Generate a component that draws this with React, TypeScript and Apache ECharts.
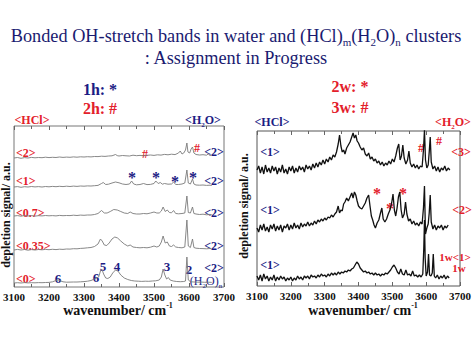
import React, { useEffect, useRef } from "react";
import * as echarts from "echarts";

const SERIF = "Liberation Serif, Times New Roman, serif";
const NAVY = "#1c1c84";
const RED = "#e3202b";

const X_MIN = 3100;
const X_MAX = 3700;
const X_STEP = 100;

// Left panel: (HCl)m(H2O)n, HCl content series (height above each trace's baseline)
const LEFT_NAMES = ["<2>", "<1>", "<0.7>", "<0.35>", "<0>"];
const LEFT_OFFSETS = [129, 100, 71, 37, 4];

const L_2: number[][] = [[3100,0],[3110,0.5],[3120,-0.3],[3130,0.4],[3140,0],[3150,0.6],[3160,0.2],[3170,0.5],[3180,0.3],[3190,0.8],[3200,0.4],[3210,0.7],[3220,0.5],[3230,1],[3240,0.6],[3250,0.9],[3260,0.7],[3270,1.1],[3280,0.8],[3290,1.2],[3300,1],[3310,1.3],[3320,1.1],[3330,1.5],[3340,1.4],[3350,1.8],[3360,1.6],[3370,2],[3380,2.2],[3390,3.5],[3395,2.4],[3400,2],[3410,2.5],[3420,2.2],[3430,2],[3440,2.8],[3450,2.3],[3460,2.6],[3470,2.2],[3480,2.7],[3490,3],[3500,2.6],[3510,3.2],[3520,2.9],[3530,3.6],[3540,3.2],[3550,3.8],[3560,3.4],[3570,5],[3575,7],[3580,4],[3585,5],[3590,8],[3594,15],[3597,6],[3602,5],[3606,9],[3610,11],[3614,5],[3620,3.5],[3630,3],[3640,3.3],[3650,2.8],[3655,4],[3660,2.5],[3665,3]];
const L_1: number[][] = [[3100,0],[3110,0.4],[3120,-0.3],[3130,0.3],[3140,0],[3150,0.5],[3160,0.1],[3170,0.4],[3180,0],[3190,0.5],[3200,0.2],[3210,0.6],[3220,0.3],[3230,0.7],[3240,0.4],[3250,0.8],[3260,0.5],[3270,0.9],[3280,0.6],[3290,1],[3300,0.8],[3310,1.1],[3320,1],[3330,1.3],[3340,1.6],[3350,3.5],[3355,4.5],[3362,2.5],[3370,2.8],[3380,4],[3390,5],[3400,4.2],[3410,3],[3420,2.5],[3430,3],[3436,6],[3442,3],[3450,2.2],[3460,2.5],[3470,3.5],[3480,2.4],[3490,2.6],[3500,3.5],[3505,6],[3512,3.5],[3518,4.5],[3524,2.8],[3530,3.5],[3540,2.8],[3550,3],[3556,5],[3562,2.5],[3570,2.5],[3580,3],[3588,4],[3594,17],[3598,4],[3604,3],[3610,8],[3614,3],[3620,2],[3630,1.8],[3640,2],[3650,1.6],[3660,1.8],[3665,1.5]];
const L_07: number[][] = [[3100,0],[3110,0.4],[3120,-0.2],[3130,0.5],[3140,0],[3150,0.4],[3160,-0.1],[3170,0.3],[3180,0.1],[3190,0.5],[3200,0.2],[3210,0.4],[3220,0.1],[3230,0.6],[3240,0.3],[3250,0.5],[3260,0.4],[3270,0.8],[3280,0.5],[3290,0.9],[3300,0.7],[3310,1],[3320,1],[3330,1.5],[3340,2.5],[3350,5.5],[3358,3],[3366,3],[3375,4.5],[3385,6.5],[3395,6],[3405,4.5],[3415,3],[3425,2.5],[3432,4],[3440,2.5],[3450,2],[3460,2],[3470,2.5],[3480,2.2],[3490,3],[3500,4],[3508,3],[3515,3],[3521,5],[3526,9],[3532,4.5],[3538,6],[3544,3.5],[3550,3.2],[3556,5.5],[3562,2.5],[3570,2.2],[3580,2.5],[3588,3],[3594,20],[3598,3.5],[3604,3],[3610,9],[3614,2.5],[3620,2],[3630,1.5],[3640,1.8],[3650,1.2],[3660,1.6],[3665,1.3]];
const L_035: number[][] = [[3100,0],[3110,0.6],[3120,0],[3130,0.5],[3140,-0.2],[3150,0.4],[3160,0],[3170,0.5],[3180,0.2],[3190,0.6],[3200,0.3],[3210,0.7],[3220,0.4],[3230,0.8],[3240,0.6],[3250,1],[3260,0.9],[3270,1.3],[3280,1.2],[3290,1.6],[3300,1.8],[3310,2.2],[3320,2.5],[3330,3.5],[3340,6],[3347,11],[3352,9],[3358,5],[3365,4.5],[3372,7],[3380,11],[3388,13],[3396,12],[3405,9],[3415,6],[3425,4],[3432,5],[3440,3],[3450,2.5],[3460,2.2],[3470,2.5],[3480,2.2],[3490,2.8],[3500,4],[3508,3],[3515,4],[3521,8],[3526,14],[3532,7],[3538,8],[3544,4],[3550,3.5],[3556,5],[3562,3],[3570,2.5],[3580,2.2],[3588,3],[3594,30],[3598,4],[3604,2.5],[3610,11],[3614,2.5],[3620,1.8],[3630,1.5],[3640,1.4],[3650,1.2],[3660,1.5],[3665,1]];
const L_0: number[][] = [[3100,0],[3110,0.3],[3120,0],[3130,0.4],[3140,0.1],[3150,0.3],[3160,0.2],[3170,0.4],[3180,0.3],[3190,0.5],[3200,0.6],[3210,1.2],[3220,2.5],[3226,3.2],[3232,2.2],[3240,1.2],[3250,0.8],[3260,0.9],[3270,1],[3280,1],[3290,1.2],[3300,1.4],[3310,1.8],[3320,2.5],[3330,4],[3336,5],[3342,6],[3347,12],[3351,14],[3356,9],[3362,5],[3368,4.5],[3375,6],[3382,10],[3390,13],[3397,12],[3405,8],[3415,5],[3425,3.5],[3435,2.5],[3445,2],[3455,1.8],[3465,1.6],[3475,1.8],[3485,1.7],[3495,2],[3505,2.2],[3515,3],[3521,6],[3526,14],[3531,8],[3536,4],[3541,5.5],[3546,3],[3555,2],[3565,1.5],[3575,1.3],[3585,1.5],[3590,2],[3594,26],[3598,3],[3605,1.2],[3615,1],[3625,0.8],[3635,0.9],[3645,0.7],[3655,0.8],[3665,0.6]];
const LEFT_TRACES = [L_2, L_1, L_07, L_035, L_0];

// Right panel: three water-rich traces
const RIGHT_OFFSETS = [116, 58, 8];
const R_3: number[][] = [[3100,0],[3105,4],[3110,-3],[3115,3],[3120,-4],[3125,5],[3130,-2],[3135,2],[3140,-3],[3145,4],[3150,-1],[3155,3],[3160,-4],[3165,2],[3170,-2],[3175,5],[3180,-3],[3185,1],[3190,-4],[3195,3],[3200,-1],[3205,4],[3210,-3],[3215,2],[3220,-2],[3225,4],[3230,0],[3235,3],[3240,-2],[3245,5],[3250,1],[3255,4],[3260,0],[3265,6],[3270,2],[3275,7],[3280,3],[3285,8],[3290,5],[3295,10],[3300,6],[3305,11],[3310,8],[3315,13],[3320,10],[3325,15],[3330,13],[3335,18],[3340,26],[3344,35],[3348,24],[3352,18],[3356,20],[3360,16],[3365,22],[3370,25],[3375,28],[3380,33],[3384,37],[3388,32],[3392,35],[3396,29],[3400,27],[3405,23],[3410,20],[3415,22],[3420,16],[3425,14],[3430,17],[3435,11],[3440,13],[3445,9],[3450,11],[3455,7],[3460,9],[3465,5],[3470,8],[3475,4],[3480,7],[3485,5],[3490,9],[3495,6],[3500,11],[3505,8],[3510,14],[3515,22],[3519,26],[3523,10],[3527,14],[3531,25],[3535,12],[3540,6],[3545,10],[3549,19],[3553,7],[3558,3],[3563,6],[3568,2],[3573,5],[3578,1],[3583,4],[3588,3],[3592,20],[3595,40],[3598,10],[3602,2],[3606,5],[3609,18],[3612,33],[3615,8],[3620,1],[3625,4],[3630,-1],[3635,3],[3640,-2],[3645,2],[3650,0],[3655,4],[3660,-1],[3665,2],[3670,0]];
const R_2: number[][] = [[3100,0],[3105,-4],[3110,3],[3115,-2],[3120,4],[3125,-3],[3130,1],[3135,-4],[3140,3],[3145,-1],[3150,4],[3155,-3],[3160,2],[3165,-2],[3170,3],[3175,-4],[3180,2],[3185,0],[3190,4],[3195,-2],[3200,3],[3205,-1],[3210,5],[3215,0],[3220,3],[3225,-1],[3230,5],[3235,1],[3240,4],[3245,2],[3250,6],[3255,2],[3260,5],[3265,3],[3270,7],[3275,4],[3280,8],[3285,6],[3290,9],[3295,7],[3300,10],[3305,8],[3310,11],[3315,10],[3320,13],[3325,11],[3330,14],[3335,16],[3340,22],[3344,15],[3348,18],[3352,17],[3356,24],[3360,26],[3365,30],[3370,27],[3375,31],[3380,35],[3384,30],[3388,36],[3392,33],[3396,27],[3400,22],[3405,20],[3410,19],[3415,22],[3420,25],[3425,30],[3430,33],[3434,22],[3438,12],[3442,8],[3446,3],[3450,0],[3455,5],[3460,8],[3465,15],[3469,20],[3473,9],[3478,6],[3483,9],[3488,14],[3493,18],[3498,25],[3502,34],[3506,18],[3510,12],[3514,20],[3518,31],[3522,36],[3526,18],[3530,10],[3535,14],[3539,26],[3543,14],[3548,7],[3553,9],[3558,4],[3563,7],[3568,3],[3573,5],[3578,2],[3583,6],[3588,4],[3592,20],[3595,42],[3598,-6],[3602,0],[3606,4],[3609,15],[3612,33],[3615,6],[3620,-1],[3625,3],[3630,-2],[3635,2],[3640,0],[3645,3],[3650,-2],[3655,2],[3660,0],[3665,3]];
const R_1: number[][] = [[3100,2],[3105,-2],[3110,3],[3115,-3],[3120,4],[3125,-1],[3130,2],[3135,-3],[3140,1],[3145,-2],[3150,3],[3155,-3],[3160,1],[3165,-2],[3170,2],[3175,-1],[3180,1],[3185,-3],[3190,0],[3195,-2],[3200,1],[3205,-3],[3210,0],[3215,-2],[3220,2],[3225,-1],[3230,1],[3235,-2],[3240,2],[3245,0],[3250,2],[3255,-1],[3260,3],[3265,1],[3270,2],[3275,0],[3280,3],[3285,1],[3290,4],[3295,2],[3300,3],[3305,1],[3310,4],[3315,2],[3320,5],[3325,3],[3330,5],[3335,3],[3340,6],[3345,4],[3350,6],[3355,5],[3360,7],[3365,6],[3370,8],[3375,7],[3380,9],[3385,10],[3390,13],[3395,16],[3400,14],[3405,10],[3410,8],[3415,6],[3420,7],[3425,5],[3430,6],[3435,4],[3440,5],[3445,3],[3450,5],[3455,3],[3460,4],[3465,2],[3470,4],[3475,3],[3480,5],[3485,4],[3490,6],[3495,8],[3500,11],[3505,13],[3510,10],[3515,6],[3520,4],[3525,9],[3530,4],[3535,3],[3540,8],[3545,3],[3550,4],[3555,2],[3560,7],[3565,2],[3570,3],[3575,1],[3580,3],[3585,1],[3590,4],[3593,30],[3595,58],[3597,20],[3600,2],[3604,6],[3607,24],[3610,3],[3614,2],[3618,5],[3621,24],[3624,2],[3628,0],[3633,3],[3638,-1],[3643,2],[3648,0],[3653,3],[3658,-1],[3663,2],[3668,0]];
const RIGHT_TRACES = [R_3, R_2, R_1];

function txt(x: number, y: number, text: string, fill: string, size: number, opts: any = {}) {
  return {
    type: "text",
    x,
    y,
    rotation: opts.rotation || 0,
    silent: true,
    style: {
      text,
      fill,
      fontSize: size,
      fontFamily: SERIF,
      fontWeight: opts.weight || "bold",
      align: opts.align || "center",
      verticalAlign: "middle",
      rich: opts.rich,
    },
  };
}

function richSub(size: number, fill: string, weight = "bold") {
  return {
    a: { fontSize: size, fill, fontFamily: SERIF, fontWeight: weight, lineHeight: size + 4 },
    s: { fontSize: Math.round(size * 0.6), fill, fontFamily: SERIF, fontWeight: weight, lineHeight: Math.round(size * 0.45), verticalAlign: "bottom" },
    p: { fontSize: Math.round(size * 0.6), fill, fontFamily: SERIF, fontWeight: weight, lineHeight: Math.round(size * 0.45), verticalAlign: "top" },
  };
}

function xAxes(gridIndex: number) {
  const common = {
    type: "value",
    gridIndex,
    min: X_MIN,
    max: X_MAX,
    interval: X_STEP,
    splitLine: { show: false },
    axisLine: { show: false },
    axisTick: { show: true, inside: true, length: 4, lineStyle: { color: "#666", width: 1 } },
    minorTick: { show: true, splitNumber: 2, length: 3, lineStyle: { color: "#666" } },
  };
  return [
    {
      ...common,
      position: "bottom",
      axisLabel: {
        show: true,
        color: "#111",
        fontFamily: SERIF,
        fontWeight: "bold",
        fontSize: 11,
        margin: 4,
        formatter: (v: number) => String(v),
      },
    },
    { ...common, position: "top", axisLabel: { show: false } },
  ];
}

export default function App() {
  const ref = useRef<HTMLDivElement>(null);
  useEffect(() => {
    if (!ref.current) return;
    const chart = echarts.init(ref.current, undefined, { renderer: "svg" });
    const series: any[] = [];
    LEFT_TRACES.forEach((tr, i) => {
      series.push({
        type: "line",
        xAxisIndex: 0,
        yAxisIndex: 0,
        showSymbol: false,
        silent: true,
        lineStyle: { color: "#7a7a7a", width: 0.9 },
        data: tr.map(([w, v]) => [w, v + LEFT_OFFSETS[i]]),
      });
    });
    RIGHT_TRACES.forEach((tr, i) => {
      series.push({
        type: "line",
        xAxisIndex: 2,
        yAxisIndex: 1,
        showSymbol: false,
        silent: true,
        lineStyle: { color: "#111", width: 1.3 },
        data: tr.map(([w, v]) => [w, v + RIGHT_OFFSETS[i]]),
      });
    });

    const g: any[] = [];
    // Title
    g.push(txt(236, 36, "{a|Bonded OH-stretch bands in water and (HCl)}{s|m}{a|(H}{s|2}{a|O)}{s|n}{a| clusters}", NAVY, 18.3, { weight: "normal", rich: richSub(18.3, "#1a1a70", "normal") }));
    g.push(txt(236, 58, ": Assignment in Progress", "#1a1a70", 18.3, { weight: "normal" }));
    // Left legend
    g.push(txt(100, 89, "1h: *", NAVY, 16));
    g.push(txt(100, 108, "2h: #", RED, 16));
    g.push(txt(32, 120, "<HCl>", RED, 12));
    g.push(txt(203, 120, "{a|<H}{s|2}{a|O>}", NAVY, 12, { rich: richSub(12, NAVY) }));
    // Left trace labels
    const leftY = [153, 181, 213, 246, 279];
    LEFT_NAMES.forEach((n, i) => g.push(txt(16, leftY[i], n, RED, 12, { align: "left" })));
    [152, 181, 213, 246, 268].forEach((y) => g.push(txt(214, y, "<2>", NAVY, 12)));
    g.push(txt(206, 281, "{a|(H}{s|2}{a|O)}{s|n}", NAVY, 12, { weight: "normal", rich: richSub(12, NAVY, "normal") }));
    // Left markers
    g.push(txt(145, 154, "#", RED, 12));
    g.push(txt(197, 148, "#", RED, 12));
    [[132, 177], [156, 177], [175, 181], [193, 177]].forEach(([x, y]) => g.push(txt(x, y, "*", NAVY, 16)));
    [[58, 278, "6"], [96, 277, "6"], [103, 266, "5"], [117, 266, "4"], [167, 266, "3"], [189, 269, "2"]].forEach(([x, y, s]) =>
      g.push(txt(x as number, y as number, s as string, NAVY, 13))
    );
    // Left axis titles
    g.push(txt(118, 310, "{a|wavenumber/ cm}{p|-1}", "#111", 14, { rich: richSub(14, "#111") }));
    g.push(txt(6, 215, "depletion signal/ a.u.", "#111", 12, { rotation: Math.PI / 2 }));

    // Right legend
    g.push(txt(350, 86, "2w: *", RED, 16));
    g.push(txt(350, 107, "3w: #", RED, 16));
    g.push(txt(272, 122, "<HCl>", NAVY, 12));
    g.push(txt(453, 122, "{a|<H}{s|2}{a|O>}", RED, 12, { rich: richSub(12, RED) }));
    g.push(txt(270, 152, "<1>", NAVY, 12));
    g.push(txt(461, 152, "<3>", RED, 12));
    g.push(txt(270, 210, "<1>", NAVY, 12));
    g.push(txt(462, 210, "<2>", RED, 12));
    g.push(txt(270, 265, "<1>", NAVY, 12));
    g.push(txt(455, 257, "1w<1>", RED, 11));
    g.push(txt(459, 268, "1w", RED, 11));
    g.push(txt(421, 148, "#", RED, 12));
    g.push(txt(439, 141, "#", RED, 12));
    [[377, 193], [390, 208], [403, 193]].forEach(([x, y]) => g.push(txt(x, y, "*", RED, 16)));
    g.push(txt(363, 310, "{a|wavenumber/ cm}{p|-1}", "#111", 14, { rich: richSub(14, "#111") }));
    g.push(txt(244, 206, "depletion signal/ a.u.", "#111", 12, { rotation: Math.PI / 2 }));

    chart.setOption({
      animation: false,
      backgroundColor: "#fff",
      grid: [
        { left: 14, top: 126, width: 210, height: 161, show: true, borderColor: "#777", borderWidth: 1, backgroundColor: "transparent" },
        { left: 257, top: 131, width: 213, height: 155, show: true, borderColor: "#555", borderWidth: 1, backgroundColor: "transparent" },
      ],
      xAxis: [...xAxes(0), ...xAxes(1)],
      yAxis: [
        { type: "value", gridIndex: 0, min: 0, max: 161, show: false },
        { type: "value", gridIndex: 1, min: 0, max: 155, show: false },
      ],
      series,
      graphic: g,
    });
    return () => chart.dispose();
  }, []);
  return (
    <div
      ref={ref}
      style={{ position: "fixed", left: 0, top: 0, width: 474, height: 355, background: "#fff" }}
    />
  );
}
